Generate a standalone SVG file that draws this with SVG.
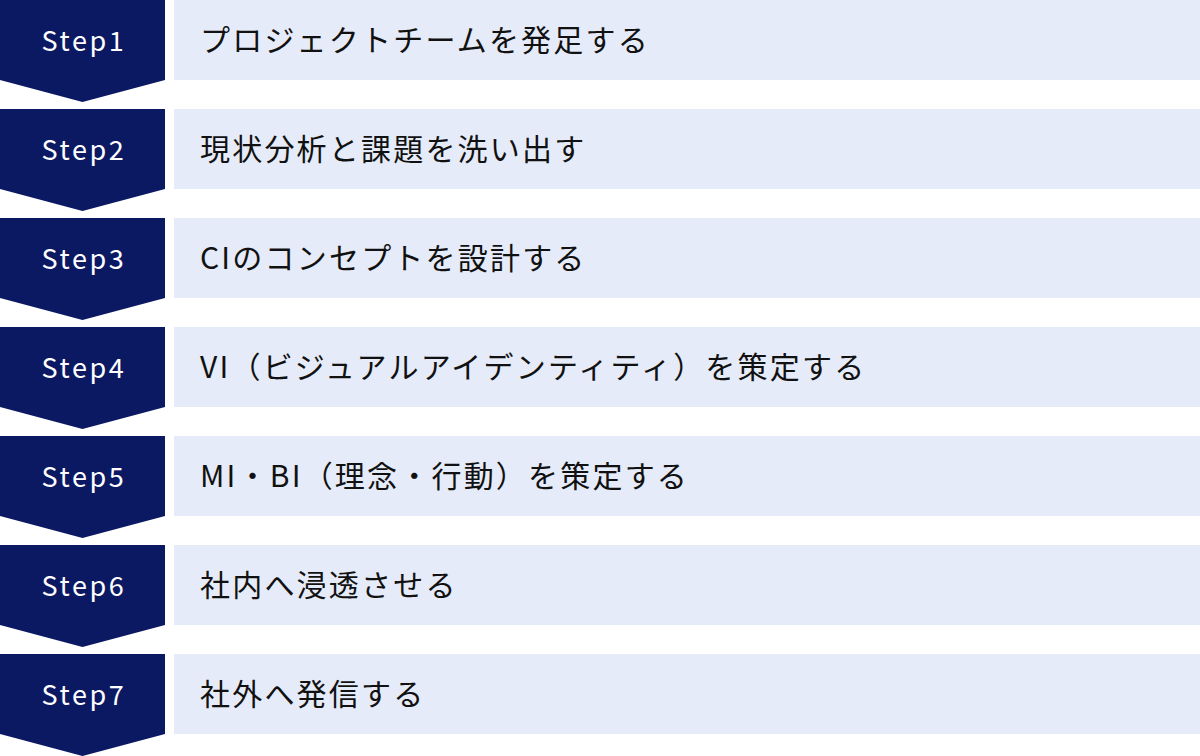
<svg xmlns="http://www.w3.org/2000/svg" width="1200" height="756" viewBox="0 0 1200 756">
<defs>
<style>
.step{fill:#0b1963}
.bar{fill:#e5ebf8}
.lbl{font-family:"Noto Sans CJK JP","Noto Sans",sans-serif;font-size:27px;font-weight:400;fill:#ffffff;letter-spacing:2.6px;text-anchor:middle}
.txt{font-family:"Noto Sans CJK JP","Noto Sans",sans-serif;font-size:30px;fill:#111111;letter-spacing:2.2px}
</style>
<path id="chev" d="M0 0H165V80L82.5 102L0 80Z"/>
</defs>
<g id="connectors"></g>
<g id="step1" transform="translate(0,0)"><use href="#chev" class="step"/><rect class="bar" x="174" y="0" width="1026" height="80"/><text class="lbl" x="84" y="51">Step1</text><text class="txt" x="200" y="51">プロジェクトチームを発足する</text></g>
<g id="step2" transform="translate(0,109)"><use href="#chev" class="step"/><rect class="bar" x="174" y="0" width="1026" height="80"/><text class="lbl" x="84" y="51">Step2</text><text class="txt" x="200" y="51">現状分析と課題を洗い出す</text></g>
<g id="step3" transform="translate(0,218)"><use href="#chev" class="step"/><rect class="bar" x="174" y="0" width="1026" height="80"/><text class="lbl" x="84" y="51">Step3</text><text class="txt" x="200" y="51">CIのコンセプトを設計する</text></g>
<g id="step4" transform="translate(0,327)"><use href="#chev" class="step"/><rect class="bar" x="174" y="0" width="1026" height="80"/><text class="lbl" x="84" y="51">Step4</text><text class="txt" x="200" y="51">VI（ビジュアルアイデンティティ）を策定する</text></g>
<g id="step5" transform="translate(0,436)"><use href="#chev" class="step"/><rect class="bar" x="174" y="0" width="1026" height="80"/><text class="lbl" x="84" y="51">Step5</text><text class="txt" x="200" y="51">MI・BI（理念・行動）を策定する</text></g>
<g id="step6" transform="translate(0,545)"><use href="#chev" class="step"/><rect class="bar" x="174" y="0" width="1026" height="80"/><text class="lbl" x="84" y="51">Step6</text><text class="txt" x="200" y="51">社内へ浸透させる</text></g>
<g id="step7" transform="translate(0,654)"><use href="#chev" class="step"/><rect class="bar" x="174" y="0" width="1026" height="80"/><text class="lbl" x="84" y="51">Step7</text><text class="txt" x="200" y="51">社外へ発信する</text></g>
</svg>
